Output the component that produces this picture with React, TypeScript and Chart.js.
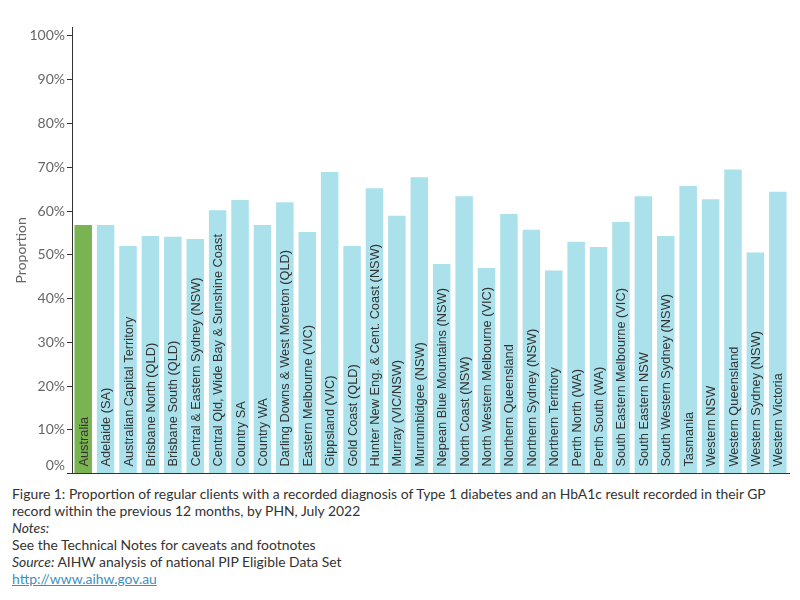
import React, { useEffect, useRef } from "react";
import { Chart, registerables } from "chart.js";

Chart.register(...registerables);

const categories = [
  "Australia",
  "Adelaide (SA)",
  "Australian Capital Territory",
  "Brisbane North (QLD)",
  "Brisbane South (QLD)",
  "Central & Eastern Sydney (NSW)",
  "Central Qld, Wide Bay & Sunshine Coast",
  "Country SA",
  "Country WA",
  "Darling Downs & West Moreton (QLD)",
  "Eastern Melbourne (VIC)",
  "Gippsland (VIC)",
  "Gold Coast (QLD)",
  "Hunter New Eng. & Cent. Coast (NSW)",
  "Murray (VIC/NSW)",
  "Murrumbidgee (NSW)",
  "Nepean Blue Mountains (NSW)",
  "North Coast (NSW)",
  "North Western Melbourne (VIC)",
  "Northern Queensland",
  "Northern Sydney (NSW)",
  "Northern Territory",
  "Perth North (WA)",
  "Perth South (WA)",
  "South Eastern Melbourne (VIC)",
  "South Eastern NSW",
  "South Western Sydney (NSW)",
  "Tasmania",
  "Western NSW",
  "Western Queensland",
  "Western Sydney (NSW)",
  "Western Victoria",
];

const proportions = [
  56.8, 56.8, 52.0, 54.3, 54.1, 53.6, 60.2, 62.5, 56.8, 62.0, 55.2, 68.9, 52.0,
  65.2, 58.9, 67.7, 47.9, 63.4, 47.0, 59.3, 55.7, 46.4, 53.0, 51.8, 57.5, 63.4,
  54.3, 65.7, 62.7, 69.5, 50.5, 64.4,
];

const yTicks = [0, 10, 20, 30, 40, 50, 60, 70, 80, 90, 100];

const NATIONAL = "Australia";
const GREEN = "#79b352";
const BLUE = "#abe1eb";

const barLabelPlugin = {
  id: "barLabels",
  afterDatasetsDraw(chart: any) {
    const ctx = chart.ctx;
    const meta = chart.getDatasetMeta(0);
    const yScale = chart.scales.y;
    const base = yScale.getPixelForValue(0);
    ctx.save();
    ctx.font = '12.8px "Liberation Sans", Arial, sans-serif';
    ctx.fillStyle = "#333333";
    ctx.textAlign = "left";
    ctx.textBaseline = "middle";
    meta.data.forEach((bar: any, i: number) => {
      ctx.save();
      ctx.translate(bar.x, base - 7);
      ctx.rotate(-Math.PI / 2);
      ctx.fillText(categories[i], 0, 1);
      ctx.restore();
    });
    // zero label, lifted above the axis end like the reference
    ctx.font = "14px Lato, sans-serif";
    ctx.fillStyle = "#666666";
    ctx.textAlign = "right";
    ctx.textBaseline = "middle";
    ctx.fillText("0%", yScale.right - 7, base - 8);
    ctx.restore();
  },
};

function App() {
  const ref = useRef<HTMLCanvasElement>(null);
  useEffect(() => {
    if (!ref.current) return;
    const chart = new Chart(ref.current, {
      type: "bar",
      data: {
        labels: categories,
        datasets: [
          {
            data: proportions,
            backgroundColor: categories.map((c) => (c === NATIONAL ? GREEN : BLUE)),
            categoryPercentage: 1,
            barPercentage: 0.78,
          },
        ],
      },
      options: {
        animation: false,
        responsive: true,
        maintainAspectRatio: false,
        layout: { padding: { top: 19, right: 3, bottom: 0, left: 0 } },
        plugins: { legend: { display: false }, tooltip: { enabled: false } },
        scales: {
          x: {
            grid: { display: false },
            ticks: { display: false },
            border: { display: true, color: "#333333", width: 1 },
          },
          y: {
            min: 0,
            max: 102.05,
            afterBuildTicks: (scale: any) => {
              scale.ticks = yTicks.map((v) => ({ value: v }));
            },
            afterFit: (scale: any) => {
              scale.width = 64;
            },
            grid: {
              display: true,
              drawOnChartArea: false,
              drawTicks: true,
              tickLength: 5,
              color: "#333333",
            },
            border: { display: true, color: "#333333", width: 1 },
            ticks: {
              padding: 2,
              color: "#666666",
              font: { family: "Lato, sans-serif", size: 14 },
              callback: (v: any) => (v === 0 ? "" : v + "%"),
            },
            title: {
              display: true,
              text: "Proportion",
              color: "#666666",
              font: { family: "Lato, sans-serif", size: 14 },
              padding: { top: 5, bottom: 0 },
            },
          },
        },
      },
      plugins: [barLabelPlugin],
    });
    return () => chart.destroy();
  }, []);

  const foot: React.CSSProperties = {
    fontFamily: "Lato, sans-serif",
    fontSize: 13.9,
    color: "#333333",
    lineHeight: "17px",
    margin: 0,
  };

  return (
    <div style={{ width: 784 }}>
      <div style={{ position: "relative", width: 784, height: 476 }}>
        <canvas ref={ref} />
      </div>
      <div style={{ ...foot, paddingLeft: 4, paddingTop: 1 }}>
        <div>
          Figure 1: Proportion of regular clients with a recorded diagnosis of Type 1 diabetes and an HbA1c result recorded in their GP
          <br />
          record within the previous 12 months, by PHN, July 2022
        </div>
        <div style={{ fontStyle: "italic" }}>Notes:</div>
        <div>See the Technical Notes for caveats and footnotes</div>
        <div>
          <span style={{ fontStyle: "italic" }}>Source:</span> AIHW analysis of national PIP Eligible Data Set
        </div>
        <div>
          <a href="http://www.aihw.gov.au" style={{ color: "#3d8fbf", textDecoration: "underline" }}>
            http://www.aihw.gov.au
          </a>
        </div>
      </div>
    </div>
  );
}

export default App;
